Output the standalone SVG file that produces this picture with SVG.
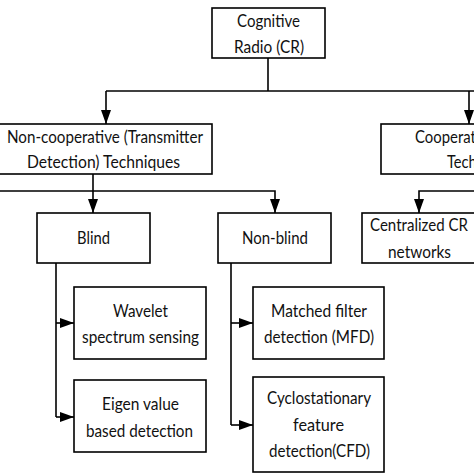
<svg xmlns="http://www.w3.org/2000/svg" width="474" height="474" viewBox="0 0 474 474">
<defs>
<style>
.box{fill:#fff;stroke:#000;stroke-width:1.6}
.t{font-family:Lato,"Liberation Sans",sans-serif;font-size:17.5px;fill:#111;text-anchor:middle}
.ts{font-family:Lato,"Liberation Sans",sans-serif;font-size:17.5px;fill:#111;text-anchor:start}
.c{fill:none;stroke:#000;stroke-width:1.6}
</style>
<marker id="ah" viewBox="0 0 14 10" refX="14" refY="5" markerWidth="14" markerHeight="10" markerUnits="userSpaceOnUse" orient="auto">
<path d="M0,0 L14,5 L0,10 Z" fill="#000"/>
</marker>
</defs>
<rect width="474" height="474" fill="#fff"/>
<g id="connectors">
<path class="c" d="M268,58 V91"/>
<path class="c" d="M106,91 H476"/>
<path class="c" d="M106,91 V124" marker-end="url(#ah)"/>
<path class="c" d="M469,91 V124" marker-end="url(#ah)"/>
<path class="c" d="M93,174 V213" marker-end="url(#ah)"/>
<path class="c" d="M-2,191 H275 V213" marker-end="url(#ah)"/>
<path class="c" d="M476,191 H419 V213" marker-end="url(#ah)"/>
<path class="c" d="M56,263 V417"/>
<path class="c" d="M56,323 H74" marker-end="url(#ah)"/>
<path class="c" d="M56,417 H74" marker-end="url(#ah)"/>
<path class="c" d="M231,263 V425"/>
<path class="c" d="M231,323 H253" marker-end="url(#ah)"/>
<path class="c" d="M231,425 H253" marker-end="url(#ah)"/>
</g>
<g id="cr">
<rect class="box" x="212" y="8" width="113" height="50"/>
<text class="t" x="268.5" y="27" textLength="63" lengthAdjust="spacingAndGlyphs">Cognitive</text>
<text class="t" x="269" y="53" textLength="70" lengthAdjust="spacingAndGlyphs">Radio (CR)</text>
</g>
<g id="noncoop">
<rect class="box" x="-3" y="124" width="215" height="50"/>
<text class="t" x="105" y="143" textLength="196" lengthAdjust="spacingAndGlyphs">Non-cooperative (Transmitter</text>
<text class="t" x="103.5" y="168" textLength="153" lengthAdjust="spacingAndGlyphs">Detection) Techniques</text>
</g>
<g id="coop">
<rect class="box" x="381" y="124" width="100" height="50"/>
<text class="ts" x="415" y="143" textLength="80" lengthAdjust="spacingAndGlyphs">Cooperative</text>
<text class="ts" x="447" y="168" textLength="72" lengthAdjust="spacingAndGlyphs">Techniques</text>
</g>
<g id="blind">
<rect class="box" x="37" y="213" width="113" height="50"/>
<text class="t" x="93.5" y="244" textLength="33" lengthAdjust="spacingAndGlyphs">Blind</text>
</g>
<g id="nonblind">
<rect class="box" x="218" y="213" width="113" height="50"/>
<text class="t" x="275" y="244" textLength="66" lengthAdjust="spacingAndGlyphs">Non-blind</text>
</g>
<g id="centralized">
<rect class="box" x="362" y="213" width="120" height="50"/>
<text class="t" x="419" y="231" textLength="98" lengthAdjust="spacingAndGlyphs">Centralized CR</text>
<text class="t" x="419.5" y="258" textLength="63" lengthAdjust="spacingAndGlyphs">networks</text>
</g>
<g id="wavelet">
<rect class="box" x="74" y="287" width="132" height="72"/>
<text class="t" x="140.5" y="317" textLength="55" lengthAdjust="spacingAndGlyphs">Wavelet</text>
<text class="t" x="140.5" y="343" textLength="117" lengthAdjust="spacingAndGlyphs">spectrum sensing</text>
</g>
<g id="eigen">
<rect class="box" x="74" y="380" width="132" height="72"/>
<text class="t" x="140.5" y="410" textLength="77" lengthAdjust="spacingAndGlyphs">Eigen value</text>
<text class="t" x="139.5" y="437" textLength="107" lengthAdjust="spacingAndGlyphs">based detection</text>
</g>
<g id="mfd">
<rect class="box" x="253" y="287" width="131" height="72"/>
<text class="t" x="319" y="317" textLength="96" lengthAdjust="spacingAndGlyphs">Matched filter</text>
<text class="t" x="319" y="343" textLength="110" lengthAdjust="spacingAndGlyphs">detection (MFD)</text>
</g>
<g id="cfd">
<rect class="box" x="253" y="377" width="131" height="95"/>
<text class="t" x="319" y="404" textLength="104" lengthAdjust="spacingAndGlyphs">Cyclostationary</text>
<text class="t" x="318.5" y="431" textLength="51" lengthAdjust="spacingAndGlyphs">feature</text>
<text class="t" x="319.5" y="457" textLength="101" lengthAdjust="spacingAndGlyphs">detection(CFD)</text>
</g>
</svg>
